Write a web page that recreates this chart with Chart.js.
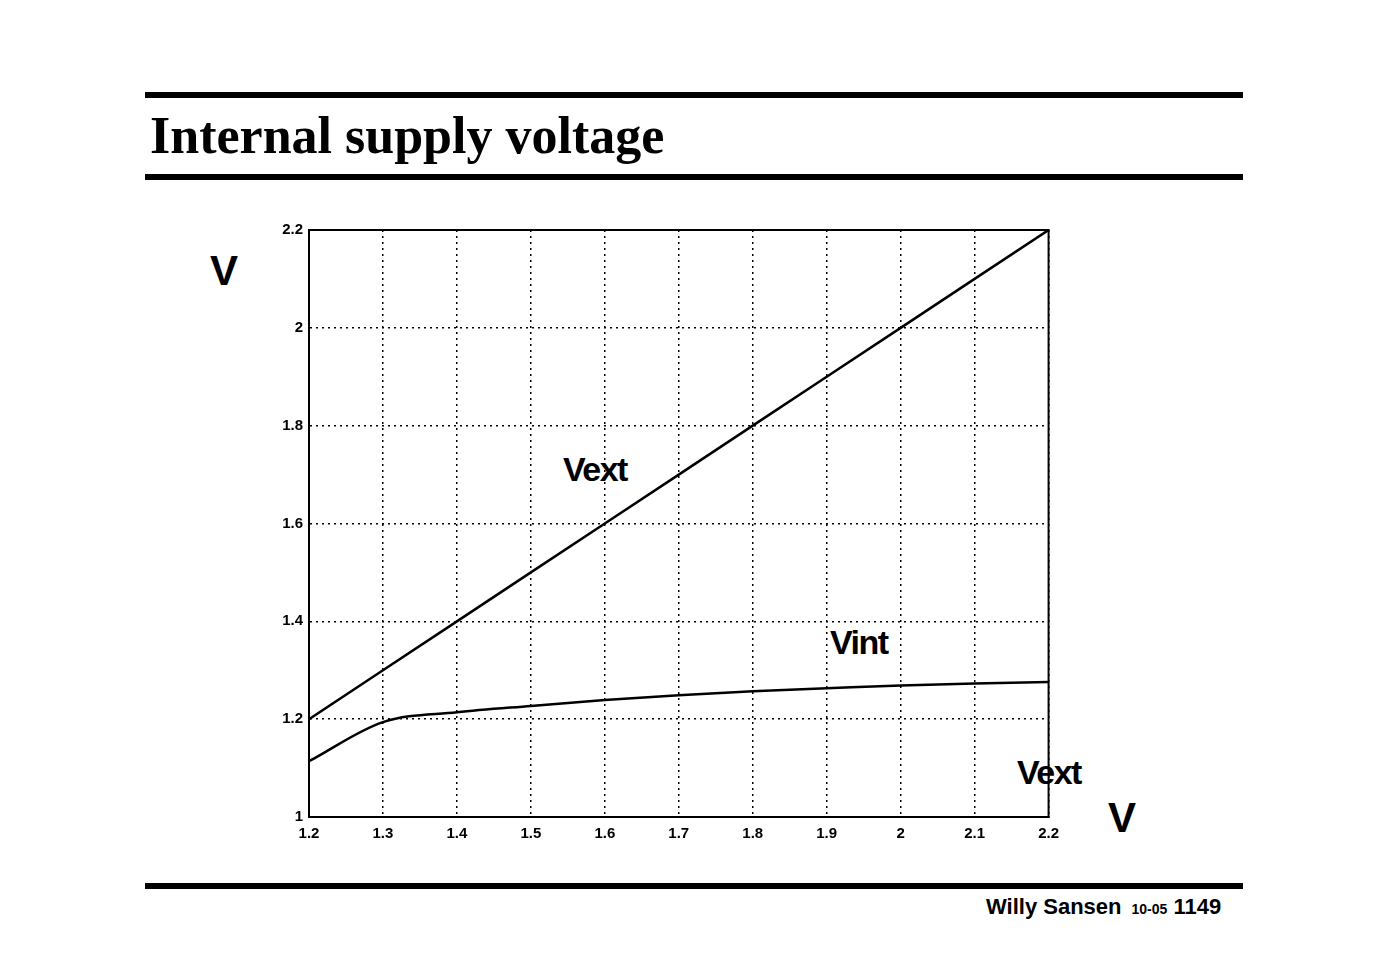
<!DOCTYPE html>
<html><head><meta charset="utf-8">
<script src="https://cdn.jsdelivr.net/npm/chart.js@4"></script>
<style>
body{margin:0;width:1385px;height:979px;background:#fff;position:relative;font-family:"Liberation Sans",Arial,sans-serif;overflow:hidden}
.rule{position:absolute;left:145px;width:1098px;background:#000}
.t{position:absolute;color:#000;line-height:1;white-space:nowrap}
#wrap{position:absolute;left:250px;top:215px;width:817px;height:640px}
</style></head><body>
<div class="rule" style="top:92px;height:6px"></div>
<div class="rule" style="top:174px;height:6px"></div>
<div class="rule" style="top:883px;height:6px"></div>
<div class="t" style="left:150px;top:110px;font-family:'Liberation Serif',serif;font-weight:bold;font-size:52px">Internal supply voltage</div>
<div class="t" style="left:986px;top:896px;font-weight:bold;font-size:22px">Willy Sansen <span style="font-size:14px">&nbsp;10-05</span> 1149</div>
<div class="t" style="left:210px;top:250px;font-weight:bold;font-size:42px">V</div>
<div class="t" style="left:1108px;top:797px;font-weight:bold;font-size:42px">V</div>
<div class="t" style="left:563px;top:452px;font-size:34px;font-weight:bold;letter-spacing:-1.5px">Vext</div>
<div class="t" style="left:830px;top:625px;font-size:34px;font-weight:bold;letter-spacing:-1.5px">Vint</div>
<div class="t" style="left:1017px;top:755px;font-size:34px;font-weight:bold;letter-spacing:-1.5px">Vext</div>
<div id="wrap"><canvas id="c"></canvas></div>
<script>
const xValues=[1.2,1.3,1.4,1.5,1.6,1.7,1.8,1.9,2.0,2.1,2.2];
const vext=[1.2,1.3,1.4,1.5,1.6,1.7,1.8,1.9,2.0,2.1,2.2];
const vint=[1.114,1.194,1.214,1.227,1.239,1.249,1.257,1.263,1.269,1.273,1.276];
const xTicks=["1.2","1.3","1.4","1.5","1.6","1.7","1.8","1.9","2","2.1","2.2"];
const yTickVals=[1,1.2,1.4,1.6,1.8,2,2.2];
const yTicks=["1","1.2","1.4","1.6","1.8","2","2.2"];
new Chart(document.getElementById('c'),{
type:'line',
data:{datasets:[
{data:xValues.map((x,i)=>({x,y:vext[i]})),borderColor:'#000',borderWidth:2.5,pointRadius:0,tension:0},
{data:xValues.map((x,i)=>({x,y:vint[i]})),borderColor:'#000',borderWidth:2.5,pointRadius:0,cubicInterpolationMode:'monotone'}
]},
options:{responsive:true,maintainAspectRatio:false,animation:false,
layout:{padding:{top:14,right:1,left:0,bottom:0}},
plugins:{legend:{display:false},tooltip:{enabled:false}},
scales:{
x:{type:'linear',min:1.2,max:2.2,
afterBuildTicks:s=>{s.ticks=xValues.map(v=>({value:v}));},
afterFit:s=>{s.height=38;},
grid:{color:'#000',lineWidth:1.5,drawTicks:false},
border:{display:true,color:'#000',width:2,dash:[2,4]},
ticks:{padding:8,color:'#000',font:{family:'Liberation Sans',size:15,weight:'bold'},callback:(v,i)=>xTicks[i]}},
y:{type:'linear',min:1,max:2.2,
afterBuildTicks:s=>{s.ticks=yTickVals.map(v=>({value:v}));},
afterFit:s=>{s.width=59;},
grid:{color:'#000',lineWidth:1.5,drawTicks:false},
border:{display:true,color:'#000',width:2,dash:[2,4]},
ticks:{padding:6,color:'#000',font:{family:'Liberation Sans',size:15,weight:'bold'},callback:(v,i)=>yTicks[i]}}
}},
plugins:[{id:'frame',afterDraw(c){
 const a=c.chartArea,x=c.ctx;x.save();x.setLineDash([]);x.strokeStyle='#000';x.lineWidth=2;x.strokeRect(a.left,a.top,a.right-a.left,a.bottom-a.top);x.restore();
}}]
});
</script>
</body></html>
